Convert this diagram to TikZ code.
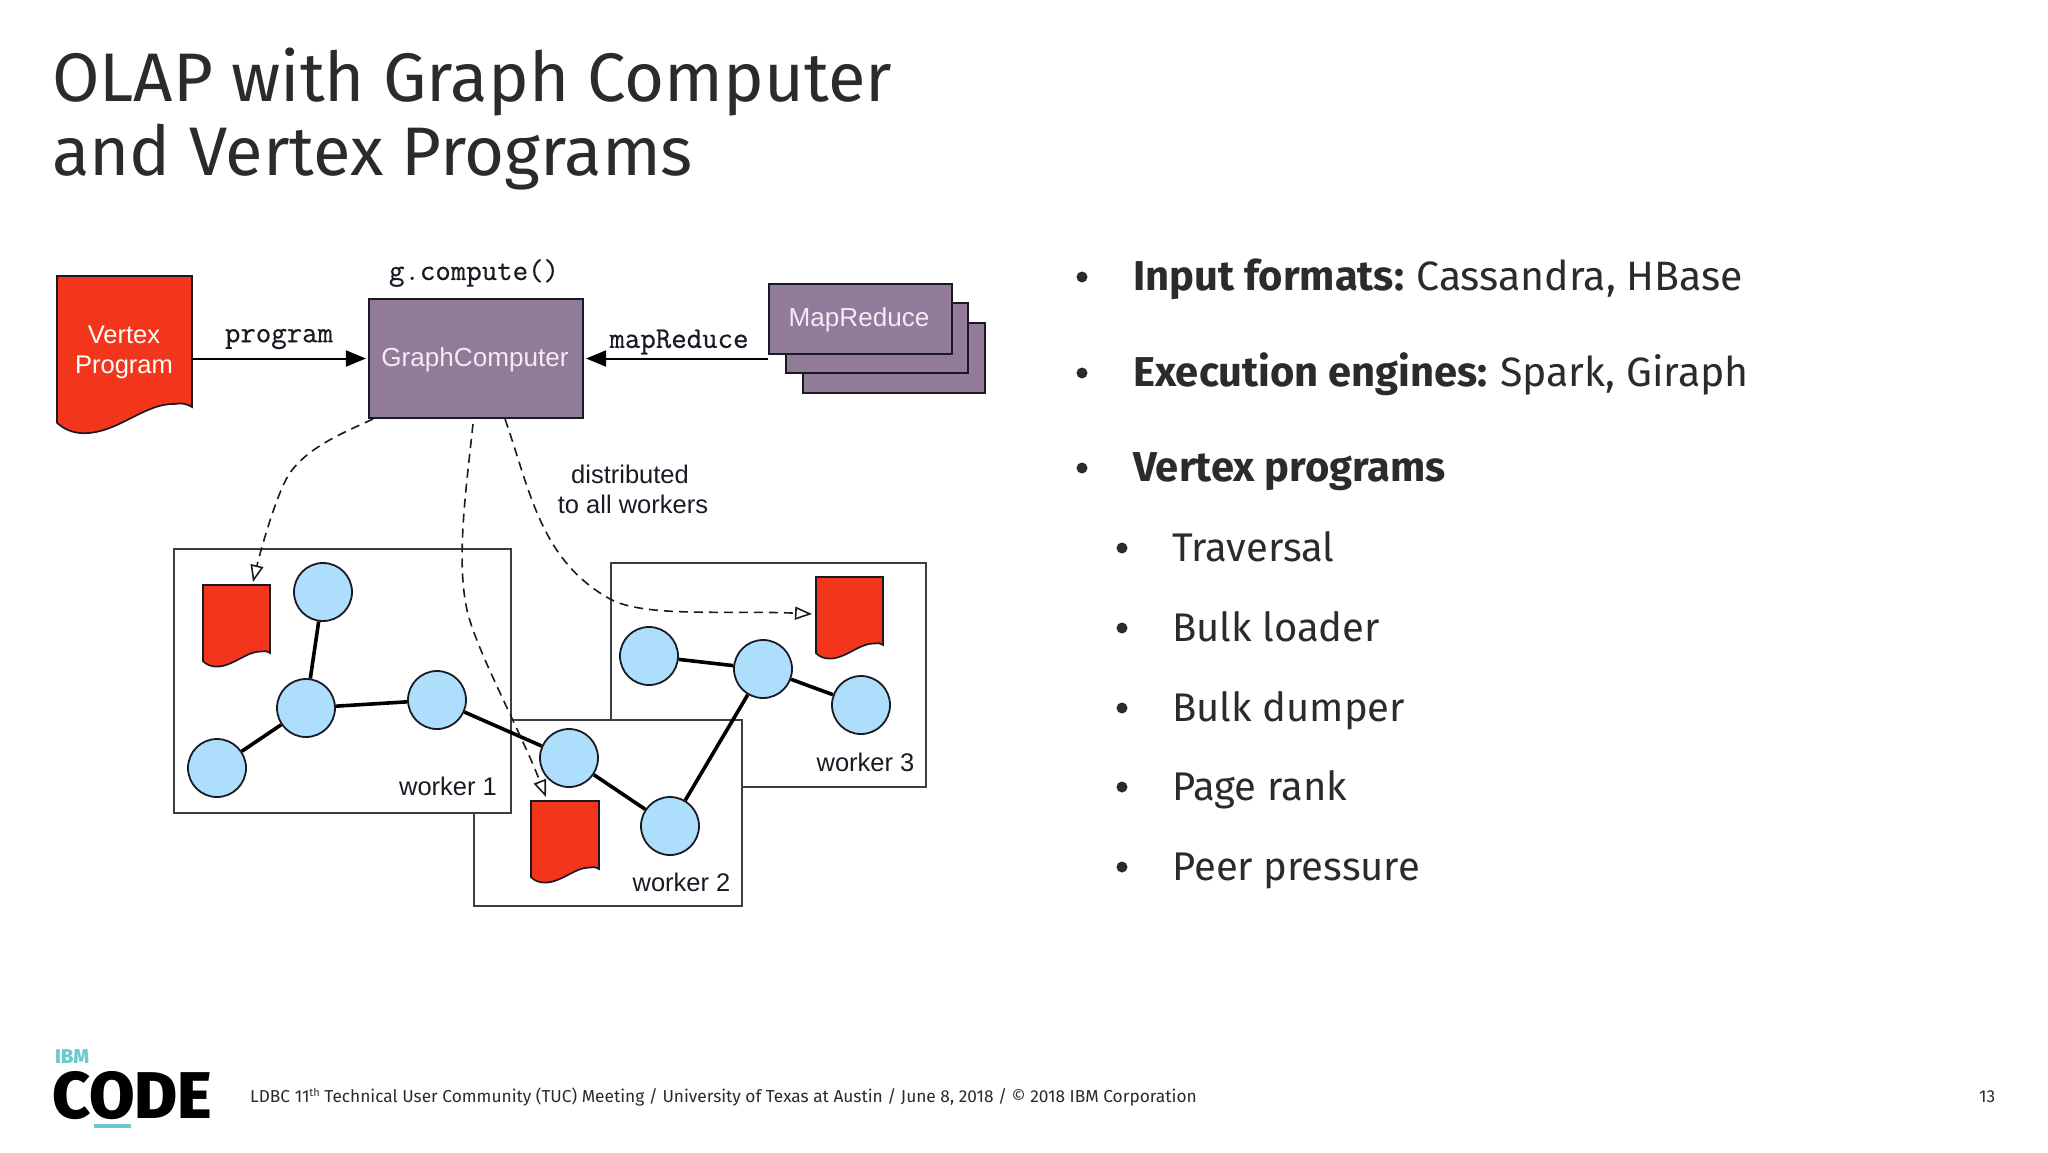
\documentclass[tikz,border=0pt]{standalone}
\usepackage{fontspec}
\setmainfont{Fira Sans}
\newfontfamily\diag{Liberation Sans}
\newfontfamily\logofont{Fira Sans ExtraBold}
\newfontfamily\leadf{Fira Sans}
\newfontfamily\monof[FakeBold=0.5]{Latin Modern Mono}
\usetikzlibrary{arrows.meta,positioning}
\definecolor{redfill}{HTML}{F3361B}
\definecolor{purp}{HTML}{917B99}
\definecolor{bluefill}{HTML}{ADDFFC}
\definecolor{ink}{HTML}{1A1A24}
\definecolor{txt}{HTML}{2B2B2B}
\definecolor{teal}{HTML}{6CCACB}
\definecolor{pink}{HTML}{F6E9F6}
\tikzset{
  x=1pt,y=-1pt,
  worker/.style={draw=ink!85,line width=2pt,fill=white,inner sep=0},
  vertexnode/.style={circle,draw=ink,line width=1.8pt,fill=bluefill,minimum size=58pt,inner sep=0},
  purplebox/.style={draw=ink,line width=2.2pt,fill=purp,inner sep=0},
  link/.style={line width=3.6pt,draw=black},
  push/.style={-{Stealth[length=20pt,width=16pt,inset=0pt]},line width=2pt,draw=black,shorten >=2pt},
  deploy/.style={dash pattern=on 9pt off 6pt,line width=1.6pt,draw=ink,-{Triangle[open,fill=white,length=17pt,width=13pt]}},
  docpath/.style={draw=ink,line width=1.7pt,fill=redfill},
  ghost/.style={inner sep=0},
  dlabel/.style={font=\diag\fontsize{25.5}{30}\selectfont,text=ink,align=center,inner sep=0},
  plabel/.style={font=\diag\fontsize{26.1}{30}\selectfont,text=pink,inner sep=0},
  mlabel/.style={font=\monof\bfseries\fontsize{30}{30}\selectfont,text=ink,inner sep=0},
  title/.style={font=\fontsize{68.7}{74}\selectfont,text=txt,anchor=base west,inner sep=0},
  bullet/.style={font=\fontsize{40}{48}\selectfont,text=txt,anchor=base west,inner sep=0},
  topbullet/.style={font=\fontsize{41}{48}\selectfont,text=txt,anchor=base west,inner sep=0},
  foot/.style={font=\fontsize{17.3}{20}\selectfont,text=txt,anchor=base west,inner sep=0},
}
\newcommand{\boldlead}[1]{{\leadf\bfseries\fontsize{41.7}{48}\selectfont #1}}
\newcommand{\docshape}[5]{% name, x0, y0, x1, y1(right-bottom)
  \pgfmathsetmacro{\dw}{#4-#2}\pgfmathsetmacro{\dh}{#5-#3}
  \draw[docpath] (#2,#3) -- (#4,#3) -- (#4,#5)
    .. controls (#2+0.95*\dw,#5-0.03*\dh) and (#2+0.92*\dw,#5-0.03*\dh) .. (#2+0.87*\dw,#5-0.023*\dh)
    .. controls (#2+0.65*\dw,#5-0.03*\dh) and (#2+0.45*\dw,#5+0.2*\dh) .. (#2+0.2*\dw,#5+0.2*\dh)
    .. controls (#2+0.12*\dw,#5+0.2*\dh) and (#2+0.05*\dw,#5+0.17*\dh) .. (#2,#5+0.12*\dh) -- cycle;
  \node[ghost,minimum width=\dw pt,minimum height=\dh pt] (#1) at ({(#2+#4)/2},{(#3+#5)/2}) {};
}
\begin{document}
\begin{tikzpicture}
\useasboundingbox (0,0) rectangle (2048,1152);
\fill[white] (0,0) rectangle (2048,1152);
% title
\node[title] (t1) at (52,101.5) {OLAP with Graph Computer};
\node[title] (t2) at (52,175) {and Vertex Programs};
% workers
\node[worker,minimum width=315pt,minimum height=224pt] (w3) at (768.5,675) {};
\node[worker,minimum width=268pt,minimum height=186pt] (w2) at (608,812.5) {};
\node[worker,minimum width=337pt,minimum height=264pt] (w1) at (342.5,681) {};
\node[dlabel] (w1l) at (448,786) {worker 1};
\node[dlabel] (w2l) at (681.5,882) {worker 2};
\node[dlabel] (w3l) at (865.5,762) {worker 3};
% documents
\docshape{vp}{57}{276}{192}{407}
\node[dlabel,text=white] (vpl) at (124,352.5) {Vertex\\Program};
\docshape{d1}{203}{585}{270}{653}
\docshape{d2}{531}{801}{599}{869}
\docshape{d3}{816}{577}{883}{645}
% purple
\node[purplebox,minimum width=214pt,minimum height=119pt] (gc) at (476,358.5) {};
\node[plabel] (gcl) at (475,359.5) {GraphComputer};
\node[purplebox,minimum width=182pt,minimum height=70pt] (mr3) at (894,358) {};
\node[purplebox,minimum width=182pt,minimum height=70pt] (mr2) at (877,338) {};
\node[purplebox,minimum width=183pt,minimum height=70pt] (mr1) at (860.5,319) {};
\node[plabel] (mrl) at (859,320) {MapReduce};
% labels
\node[mlabel] (gcomp) at (474,273) {g.compute()};
\node[mlabel] (prog) at (279,339) {program};
\node[mlabel] (mapr) at (679,342) {mapReduce};
\node[dlabel] (dist) at (630,489) {distributed\\\hspace*{6pt}to all workers};
% vertices
\node[vertexnode] (a1) at (323,592) {};
\node[vertexnode] (a2) at (306,708) {};
\node[vertexnode] (a3) at (217,768) {};
\node[vertexnode] (a4) at (437,700) {};
\node[vertexnode] (b1) at (569,758) {};
\node[vertexnode] (b2) at (670,826) {};
\node[vertexnode] (c1) at (649,656) {};
\node[vertexnode] (c2) at (763,669) {};
\node[vertexnode] (c3) at (861,705) {};
\foreach \p/\q in {a1/a2,a2/a3,a2/a4,a4/b1,b1/b2,b2/c2,c1/c2,c2/c3}
  \draw[link] (\p) -- (\q);
% arrows
\draw[push] (vp.east |- gc.west) -- (gc.west);
\draw[push] (mr1.west |- gc.east) -- (gc.east);
\coordinate (s1) at (373,419);
\coordinate (s2) at (473,424);
\coordinate (s3) at (505,419);
\coordinate (e1) at (253,582);
\coordinate (e2) at (546,797);
\coordinate (e3) at (812,614);
\draw[deploy] (s1) .. controls (345,432) and (305,448) .. (288,476) .. controls (277,494) and (262,545) .. (e1);
\draw[deploy] (s2) .. controls (466,490) and (456,560) .. (467,610) .. controls (476,650) and (520,730) .. (e2);
\draw[deploy] (s3) .. controls (530,490) and (540,560) .. (610,599) .. controls (645,618) and (730,610) .. (e3);
% bullets
\foreach \n/\y/\t in {
 b-a/290/{\boldlead{Input formats:}\hspace{-2pt} Cassandra, HBase},
 b-b/386/{\boldlead{Execution engines:}\hspace{-2pt} Spark, Giraph},
 b-c/481/{\boldlead{Vertex programs}}}{
  \node[topbullet] (\n) at (1133,\y) {\t};
  \fill[txt] (1082,\y-13) circle (5.5pt);
}
\foreach \n/\y/\t in {
 s-a/561/Traversal,
 s-b/641/Bulk loader,
 s-c/721/Bulk dumper,
 s-d/800/Page rank,
 s-e/880/Peer pressure}{
  \node[bullet] (\n) at (1172,\y) {\t};
  \fill[txt] (1122,\y-13) circle (5.5pt);
}
% footer
\node[foot] (ft) at (250,1102) {LDBC 11\raisebox{6pt}{\fontsize{11}{11}\selectfont th} Technical User Community (TUC) Meeting / University of Texas at Austin / June 8, 2018 / © 2018 IBM Corporation};
\node[foot] (pg) at (1979,1102) {13};
\node[font=\logofont\fontsize{66}{66}\selectfont,anchor=base west,inner sep=0,text=black] (logo) at (52,1118) {CODE};
\node[font=\logofont\fontsize{20}{20}\selectfont,anchor=base west,inner sep=0,text=teal] (ibm) at (55,1063) {IBM};
\fill[teal] (94,1124) rectangle (131,1127.5);
\end{tikzpicture}
\end{document}
